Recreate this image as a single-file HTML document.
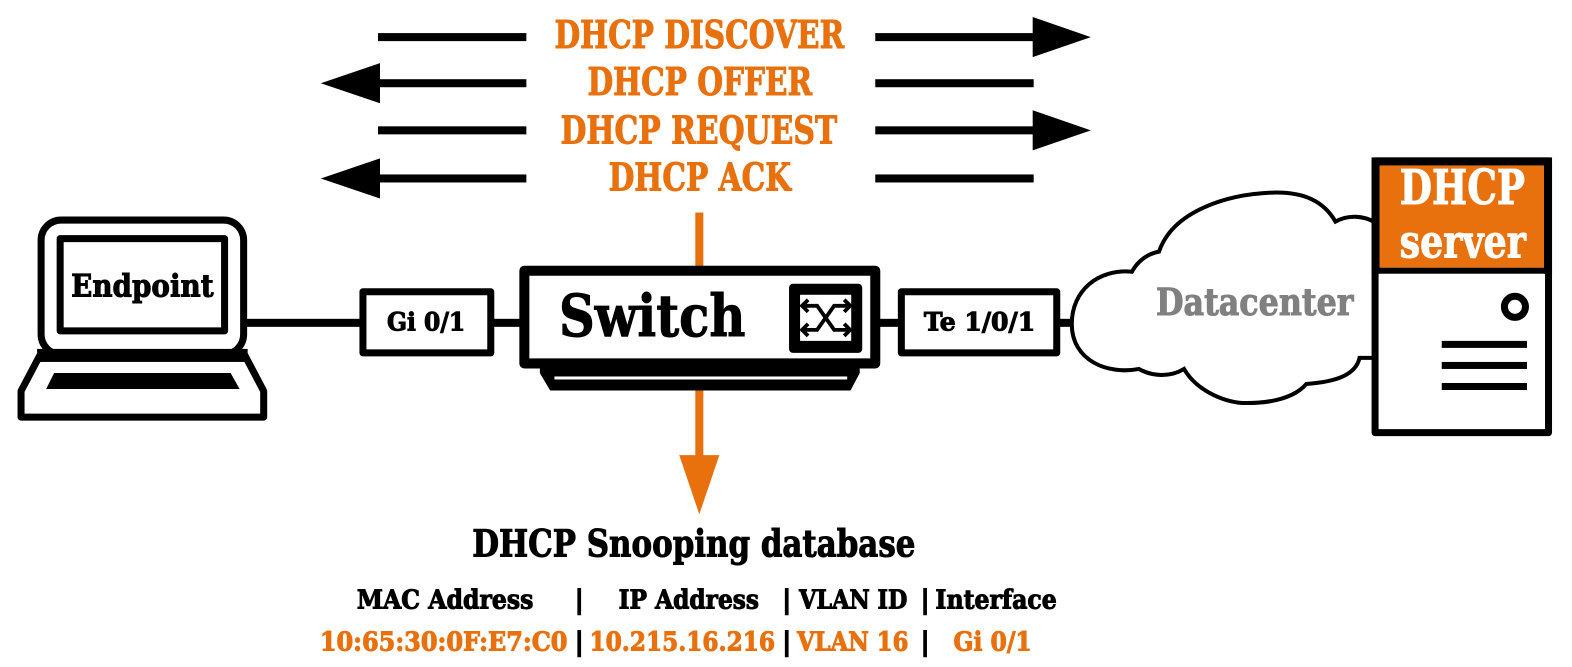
<!DOCTYPE html>
<html><head><meta charset="utf-8"><title>DHCP Snooping</title>
<style>
html,body{margin:0;padding:0;background:#fff}
svg{display:block}
text{font-family:"DejaVu Serif","Liberation Serif",serif;font-weight:bold;stroke-width:1;stroke:currentColor}
.o{fill:#e8710e;color:#e8710e}.k{fill:#000}
</style></head><body>
<svg width="1572" height="667" viewBox="0 0 1572 667" xmlns="http://www.w3.org/2000/svg">
<rect width="1572" height="667" fill="#fff"/>
<g transform="scale(1.0026)">
<!-- message arrows -->
<g fill="#000">
<rect x="377" y="33" width="148" height="8"/><rect x="873" y="33" width="160" height="8"/><polygon points="1030,17 1088,37 1030,57"/>
<rect x="378" y="79" width="147" height="8"/><rect x="873" y="79" width="158" height="8"/><polygon points="379,63 320,83 379,103"/>
<rect x="377" y="126" width="148" height="8"/><rect x="873" y="126" width="160" height="8"/><polygon points="1030,110 1088,130 1030,150"/>
<rect x="378" y="174" width="147" height="8"/><rect x="873" y="174" width="158" height="8"/><polygon points="379,158 320,178 379,198"/>
</g>
<g font-size="38" class="o">
<text x="553" y="48" textLength="289" lengthAdjust="spacingAndGlyphs">DHCP DISCOVER</text>
<text x="586" y="95" textLength="224" lengthAdjust="spacingAndGlyphs">DHCP OFFER</text>
<text x="559" y="143" textLength="276" lengthAdjust="spacingAndGlyphs">DHCP REQUEST</text>
<text x="607" y="190" textLength="182" lengthAdjust="spacingAndGlyphs">DHCP ACK</text>
</g>
<!-- orange connectors -->
<rect x="693.500" y="212" width="8" height="56" fill="#e8710e"/>
<rect x="693.500" y="385" width="8" height="72" fill="#e8710e"/>
<polygon points="677.500,454 717.500,454 697.500,513" fill="#e8710e"/>
<!-- links -->
<rect x="245" y="318" width="116" height="8"/>
<rect x="490" y="318" width="32" height="8"/>
<rect x="875" y="318" width="24" height="8"/>
<rect x="1055" y="318" width="16" height="8"/>
<!-- laptop -->
<rect x="41" y="219.500" width="202" height="134" rx="20" fill="#fff" stroke="#000" stroke-width="7"/>
<rect x="60" y="238" width="164" height="92" fill="#fff" stroke="#000" stroke-width="7" stroke-linejoin="round"/>
<polygon points="40,354 244,354 263,390 263,416 21,416 21,390" fill="#fff" stroke="#000" stroke-width="7" stroke-linejoin="round"/>
<rect x="37" y="348" width="210" height="13"/>
<polygon points="54,372 230,372 239,388 46,388"/>
<text x="71" y="295.500" font-size="31" textLength="142" lengthAdjust="spacingAndGlyphs">Endpoint</text>
<!-- Gi box -->
<rect x="362" y="291" width="127.500" height="61" fill="#fff" stroke="#000" stroke-width="7" stroke-linejoin="round"/>
<text x="386" y="329.500" font-size="25" textLength="78" lengthAdjust="spacingAndGlyphs">Gi 0/1</text>
<!-- switch -->
<polygon points="539,365 857,365 857,372 848,389 549,389 539,372" stroke="#000" stroke-width="1" stroke-linejoin="round"/>
<rect x="553" y="375.500" width="292" height="3" fill="#fff"/>
<rect x="523" y="270" width="350" height="92.500" fill="#fff" stroke="#000" stroke-width="10" stroke-linejoin="round"/>
<text x="557.500" y="335" font-size="58" textLength="186" lengthAdjust="spacingAndGlyphs">Switch</text>
<rect x="787" y="283" width="73" height="69" rx="4"/>
<rect x="798" y="294" width="51" height="46" fill="#fff"/>
<g fill="none" stroke="#000" stroke-width="3.800">
<path d="M801,305 H815 L832,329 H847"/>
<path d="M847,305 H832 L815,329 H801"/>
<path d="M806,299 L800,305 L806,311"/>
<path d="M842,299 L848,305 L842,311"/>
<path d="M806,323 L800,329 L806,335"/>
<path d="M842,323 L848,329 L842,335"/>
</g>
<!-- Te box -->
<rect x="899" y="291" width="155" height="61" fill="#fff" stroke="#000" stroke-width="7" stroke-linejoin="round"/>
<text x="921.500" y="329.500" font-size="25" textLength="111" lengthAdjust="spacingAndGlyphs">Te 1/0/1</text>
<!-- cloud -->
<path d="M1372,222 C1360,215 1345,214 1332,221 C1320,200 1300,192 1273,192 C1225,193 1170,210 1156,251 C1145,253 1135,260 1129,271 C1095,268 1069,290 1069,323 C1069,360 1105,374 1136,368 C1150,376 1168,376 1181,368 C1195,392 1225,402 1243,402 C1265,402 1290,398 1303,383 C1330,381 1352,375 1356,357 L1372,357 Z" fill="#fff" stroke="#000" stroke-width="4"/>
<text x="1153" y="314" font-size="37" fill="#808080" style="color:#808080" textLength="197" lengthAdjust="spacingAndGlyphs">Datacenter</text>
<!-- server -->
<rect x="1371.500" y="160.500" width="173" height="271" fill="#fff" stroke="#000" stroke-width="7" stroke-linejoin="round"/>
<rect x="1368" y="157" width="180" height="9"/>
<rect x="1376" y="165" width="164" height="102" fill="#e8710e"/>
<rect x="1375" y="267" width="166" height="6"/>
<rect x="1368" y="165" width="8" height="108"/><rect x="1540" y="165" width="8" height="108"/>
<text x="1396" y="203.500" font-size="48" fill="#fff" style="color:#fff" textLength="125" lengthAdjust="spacingAndGlyphs">DHCP</text>
<text x="1396" y="257" font-size="46" fill="#fff" style="color:#fff" textLength="126" lengthAdjust="spacingAndGlyphs">server</text>
<circle cx="1511" cy="306" r="10.500" fill="#fff" stroke="#000" stroke-width="7"/>
<rect x="1438" y="340" width="85" height="7"/>
<rect x="1438" y="361" width="85" height="7"/>
<rect x="1438" y="382" width="85" height="7"/>
<!-- database -->
<text x="471" y="555" font-size="37" textLength="442" lengthAdjust="spacingAndGlyphs">DHCP Snooping database</text>
<g font-size="26">
<text x="356" y="607" textLength="176" lengthAdjust="spacingAndGlyphs">MAC Address</text>
<text x="573" y="607">|</text>
<text x="617" y="607" textLength="140" lengthAdjust="spacingAndGlyphs">IP Address</text>
<text x="780" y="607">|</text>
<text x="797" y="607" textLength="108" lengthAdjust="spacingAndGlyphs">VLAN ID</text>
<text x="918" y="607">|</text>
<text x="933" y="607" textLength="121" lengthAdjust="spacingAndGlyphs">Interface</text>
</g>
<g font-size="26">
<text class="o" x="319" y="649" textLength="247" lengthAdjust="spacingAndGlyphs">10:65:30:0F:E7:C0</text>
<text x="573" y="649">|</text>
<text class="o" x="588" y="649" textLength="185" lengthAdjust="spacingAndGlyphs">10.215.16.216</text>
<text x="780" y="649">|</text>
<text class="o" x="795" y="649" textLength="111" lengthAdjust="spacingAndGlyphs">VLAN 16</text>
<text x="918" y="649">|</text>
<text class="o" x="951" y="649" textLength="78" lengthAdjust="spacingAndGlyphs">Gi 0/1</text>
</g>
</g>
</svg>
</body></html>
